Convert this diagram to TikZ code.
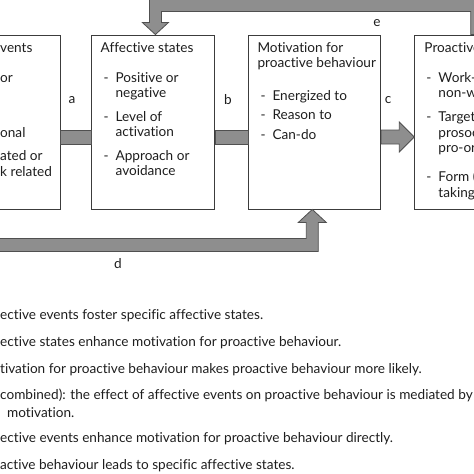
\documentclass[tikz,border=0pt]{standalone}
\usepackage{fontspec}
\setmainfont{Lato}[Ligatures={NoCommon}]
\usetikzlibrary{calc,positioning}
\definecolor{boxline}{HTML}{3C3C3C}
\definecolor{arrowfill}{HTML}{8E8E8E}
\definecolor{arrowline}{HTML}{505050}
\definecolor{txtcol}{HTML}{1E1E1E}
\tikzset{
  stagebox/.style={draw=boxline, line width=0.9pt, fill=white, minimum height=174pt, inner sep=0pt},
  fat/.style={fill=arrowfill, draw=arrowline, line width=0.8pt, line join=miter},
  bodytext/.style={font=\fontsize{13.6}{15.5}\selectfont, text=txtcol, inner sep=0pt},
}
\begin{document}
\begin{tikzpicture}[x=1pt,y=-1pt]
\useasboundingbox (0,0) rectangle (474,474);
\clip (0,0) rectangle (474,474);
% the four stages
\node[stagebox, minimum width=140pt] (events) at (-10,122) {};
\node[stagebox, minimum width=123pt, right=31pt of events] (affect) {};
\node[stagebox, minimum width=132pt, right=33pt of affect] (motiv) {};
\node[stagebox, minimum width=133pt, right=33pt of motiv] (proact) {};

% a, b, c
\draw[fat] ($(events.east)+(0,8)$) rectangle ($(affect.west)+(0,22)$);
\draw[fat] ($(affect.east)+(0,8)$) rectangle ($(motiv.west)+(0,22)$);
\draw[fat] ($(motiv.east)+(0,8)$) -- ($(proact.west)+(-15,8)$) -- ($(proact.west)+(-15,0)$)
  -- ($(proact.west)+(0,15)$) -- ($(proact.west)+(-15,30)$) -- ($(proact.west)+(-15,22)$)
  -- ($(motiv.east)+(0,22)$) -- cycle;
% e: back from proactive behaviour to affective states
\draw[fat] ($(proact.north)+(-10.5,0)$) -- ($(proact.north)+(-10.5,-23)$) -- ($(affect.north)+(8,-23)$)
  -- ($(affect.north)+(8,-12)$) -- ($(affect.north)+(15,-12)$) -- ($(affect.north)+(2,0)$)
  -- ($(affect.north)+(-11,-12)$) -- ($(affect.north)+(-4,-12)$) -- ($(affect.north)+(-4,-35)$)
  -- ($(proact.north)+(1.5,-35)$) -- ($(proact.north)+(1.5,0)$) -- cycle;
% d: events straight to motivation
\draw[fat] ($(events.south)+(-6,0)$) -- ($(events.south)+(-6,42)$) -- ($(motiv.south)+(3.5,42)$)
  -- ($(motiv.south)+(3.5,13)$) -- ($(motiv.south)+(11.5,13)$) -- ($(motiv.south)+(-2.5,0)$)
  -- ($(motiv.south)+(-16.5,13)$) -- ($(motiv.south)+(-8.5,13)$) -- ($(motiv.south)+(-8.5,29)$)
  -- ($(events.south)+(6,29)$) -- ($(events.south)+(6,0)$) -- cycle;

\node[bodytext] (la) at (72,100) {a};
\node[bodytext] (lb) at (228,100) {b};
\node[bodytext] (lc) at (388,100) {c};
\node[bodytext] (ld) at (118,264) {d};
\node[bodytext] (le) at (377,23) {e};

% box contents
\node[bodytext, anchor=base west] (eventstxt) at (0,52.5) {\begin{tabular}[t]{@{}l@{}}
  vents\\[14.5pt] or\\ \\[8pt] \\ onal\\[8pt] ated or\\ k related
\end{tabular}};
\node[bodytext, anchor=base west] (affecttxt) at ($(affect.north west)+(9,17.5)$) {\begin{tabular}[t]{@{}p{15pt}@{}l@{}}
  \multicolumn{2}{@{}l@{}}{Affective states}\\[14.5pt]
  \hspace{3pt}- & Positive or\\ & negative\\[8pt]
  \hspace{3pt}- & Level of\\ & activation\\[8pt]
  \hspace{3pt}- & Approach or\\ & avoidance
\end{tabular}};
\node[bodytext, anchor=base west] (motivtxt) at ($(motiv.north west)+(9,17.5)$) {\begin{tabular}[t]{@{}p{15pt}@{}l@{}}
  \multicolumn{2}{@{}l@{}}{Motivation for}\\
  \multicolumn{2}{@{}l@{}}{proactive behaviour}\\[17.5pt]
  \hspace{3pt}- & Energized to\\[3.5pt]
  \hspace{3pt}- & Reason to\\[4.5pt]
  \hspace{3pt}- & Can-do
\end{tabular}};
\node[bodytext, anchor=base west] (proacttxt) at ($(proact.north west)+(10,17.5)$) {\begin{tabular}[t]{@{}p{14pt}@{}l@{}}
  \multicolumn{2}{@{}l@{}}{Proactive}\\[14.5pt]
  \hspace{2pt}- & Work-\\ & non-w\\[8.5pt]
  \hspace{2pt}- & Target\\ & prosoc\\ & pro-or\\[13.5pt]
  \hspace{2pt}- & Form (\\ & taking
\end{tabular}};

% key below the figure
\node[bodytext, anchor=base west] (keya) at (0,319) {ective events foster specific affective states.};
\node[bodytext, anchor=base west] (keyb) at (0,346) {ective states enhance motivation for proactive behaviour.};
\node[bodytext, anchor=base west] (keyc) at (0,373) {tivation for proactive behaviour makes proactive behaviour more likely.};
\node[bodytext, anchor=base west] (keyd) at (0,399) {combined): the effect of affective events on proactive behaviour is mediated by};
\node[bodytext, anchor=base west] (keyd2) at (7,417) {motivation.};
\node[bodytext, anchor=base west] (keye) at (0,442) {ective events enhance motivation for proactive behaviour directly.};
\node[bodytext, anchor=base west] (keyf) at (0,469) {active behaviour leads to specific affective states.};
\end{tikzpicture}
\end{document}
